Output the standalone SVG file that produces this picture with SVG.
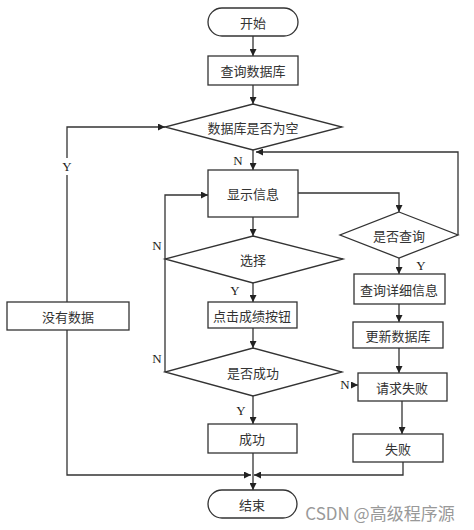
<svg xmlns="http://www.w3.org/2000/svg" width="474" height="530" viewBox="0 0 474 530">
<style>
.s{fill:#fff;stroke:#333;stroke-width:1.3}
.t{font-family:"Noto Sans CJK SC","Noto Sans CJK JP",sans-serif;font-size:13px;fill:#333;text-anchor:middle;dominant-baseline:central}
.l{font-family:"Liberation Serif",serif;font-size:13px;fill:#222;text-anchor:middle;dominant-baseline:central}
.c{fill:none;stroke:#333;stroke-width:1.3}
</style>
<defs>
<marker id="a" viewBox="0 0 10 10" refX="10" refY="5" markerWidth="7" markerHeight="7" markerUnits="userSpaceOnUse" orient="auto"><path d="M0,0 L10,5 L0,10 Z" fill="#222"/></marker>
</defs>
<rect width="474" height="530" fill="#fff"/>
<g id="connectors">
<path class="c" d="M253,36 V56" marker-end="url(#a)"/>
<path class="c" d="M253,85 V104" marker-end="url(#a)"/>
<path class="c" d="M253,150 V170" marker-end="url(#a)"/>
<path class="c" d="M253,217 V236" marker-end="url(#a)"/>
<path class="c" d="M253,283 V302" marker-end="url(#a)"/>
<path class="c" d="M253,328 V348" marker-end="url(#a)"/>
<path class="c" d="M253,396 V424" marker-end="url(#a)"/>
<path class="c" d="M253,453 V490" marker-end="url(#a)"/>
<path class="c" d="M298,193 H399 V212" marker-end="url(#a)"/>
<path class="c" d="M458,235 V152 H256" marker-end="url(#a)"/>
<path class="c" d="M399,258 V274" marker-end="url(#a)"/>
<path class="c" d="M399,304 V322" marker-end="url(#a)"/>
<path class="c" d="M399,348 V373" marker-end="url(#a)"/>
<path class="c" d="M402,401 V434" marker-end="url(#a)"/>
<path class="c" d="M403,462 V475 H254" marker-end="url(#a)"/>
<path class="c" d="M67,330 V475 H251" marker-end="url(#a)"/>
<path class="c" d="M67,302 V175"/>
<path class="c" d="M67,158 V127 H165" marker-end="url(#a)"/>
<path class="c" d="M165,372 V195 H208" marker-end="url(#a)"/>
<path class="c" d="M351,385 H358" marker-end="url(#a)"/>
<text class="l" x="67" y="166">Y</text>
<text class="l" x="238" y="160">N</text>
<text class="l" x="157" y="245">N</text>
<text class="l" x="235" y="290">Y</text>
<text class="l" x="157" y="358">N</text>
<text class="l" x="241" y="410">Y</text>
<text class="l" x="421" y="265">Y</text>
<text class="l" x="345" y="384">N</text>
</g>
<g id="start"><rect class="s" x="208" y="8" width="90" height="28" rx="14"/><text class="t" x="253" y="22">开始</text></g>
<g id="query-db"><rect class="s" x="208" y="56" width="90" height="29"/><text class="t" x="253" y="70">查询数据库</text></g>
<g id="db-empty"><polygon class="s" points="253,104 342,127 253,150 165,127"/><text class="t" x="253" y="127">数据库是否为空</text></g>
<g id="show-info"><rect class="s" x="208" y="170" width="90" height="47"/><text class="t" x="253" y="193">显示信息</text></g>
<g id="select"><polygon class="s" points="253,236 343,259 253,283 165,259"/><text class="t" x="253" y="259">选择</text></g>
<g id="click-btn"><rect class="s" x="208" y="302" width="89" height="26"/><text class="t" x="252" y="315">点击成绩按钮</text></g>
<g id="success-q"><polygon class="s" points="253,348 342,372 253,396 165,372"/><text class="t" x="253" y="372">是否成功</text></g>
<g id="success"><rect class="s" x="208" y="424" width="89" height="29"/><text class="t" x="252" y="438">成功</text></g>
<g id="end"><rect class="s" x="208" y="490" width="89" height="28" rx="14"/><text class="t" x="252" y="504">结束</text></g>
<g id="query-q"><polygon class="s" points="399,212 458,235 399,258 340,235"/><text class="t" x="399" y="235">是否查询</text></g>
<g id="query-detail"><rect class="s" x="354" y="274" width="91" height="30"/><text class="t" x="399" y="289">查询详细信息</text></g>
<g id="update-db"><rect class="s" x="353" y="322" width="90" height="26"/><text class="t" x="398" y="335">更新数据库</text></g>
<g id="req-fail"><rect class="s" x="358" y="373" width="89" height="28"/><text class="t" x="402" y="387">请求失败</text></g>
<g id="fail"><rect class="s" x="353" y="434" width="90" height="28"/><text class="t" x="398" y="448">失败</text></g>
<g id="no-data"><rect class="s" x="7" y="302" width="122" height="28"/><text class="t" x="68" y="316">没有数据</text></g>
<text x="380" y="512" font-family="'Noto Sans CJK SC',sans-serif" font-size="17" fill="#999" text-anchor="middle" dominant-baseline="central">CSDN @高级程序源</text>
</svg>
